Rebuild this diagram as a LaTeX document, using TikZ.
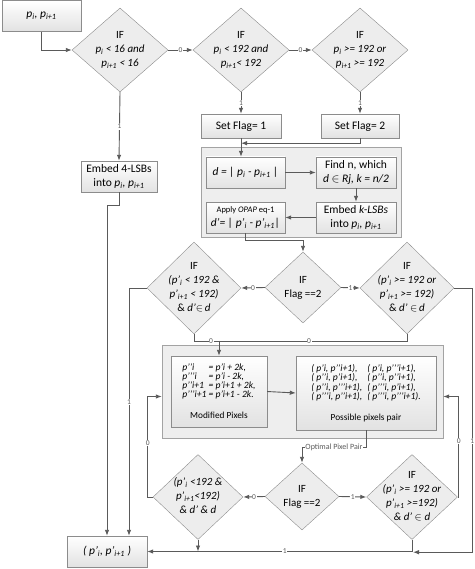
\documentclass[tikz,border=0pt]{standalone}
\usepackage{fontspec}
\setmainfont{Carlito}
\usepackage{tikz}
\usetikzlibrary{arrows.meta,calc,shapes.geometric,positioning}
\definecolor{edgegray}{HTML}{5A5A5A}
\definecolor{boxline}{HTML}{8C8C8C}
\definecolor{boxfill}{HTML}{E2E2E2}
\definecolor{diafill}{HTML}{EDEDED}
\definecolor{grpfill}{HTML}{EEEEEE}
\newcommand{\sbs}[1]{\textsubscript{#1}}
\newcommand{\dtxt}[1]{\smash{\raisebox{-0.25em}{\makebox[0pt]{\begin{tabular}{@{}c@{}}#1\end{tabular}}}}}
\newcommand{\eqfont}{\fontsize{9.6}{7.8}\selectfont\itshape}

\begin{document}
\begin{tikzpicture}[x=1pt,y=-1pt,
  box/.style={draw=boxline,top color=white,bottom color=boxfill,inner sep=1pt,align=center,font=\fontsize{11.5}{13.5}\selectfont},
  dia/.style={diamond,draw=boxline,fill=diafill,inner sep=0pt,font=\fontsize{11}{14}\selectfont},
  grp/.style={draw=boxline!80,fill=grpfill},
  arr/.style={draw=edgegray,line width=0.9pt,-{Latex[length=6pt,width=4.5pt]}},
  line/.style={draw=edgegray,line width=0.9pt},
  lbl/.style={fill=white,inner sep=0.6pt,text=edgegray,font=\fontsize{7.5}{8}\selectfont}]
\useasboundingbox (0,0) rectangle (474,569);

% top row
\node[box,minimum width=79pt,minimum height=31pt] (start) at (41.5,16) {\textit{p\sbs{i}, p\sbs{i+1}}};
\node[dia,minimum width=96pt,minimum height=84pt] (D1) at (120,50) {\dtxt{IF\\\textit{p\sbs{i} < 16 and}\\\textit{p\sbs{i+1} < 16}}};
\node[dia,minimum width=96pt,minimum height=84pt] (D2) at (241,50) {\dtxt{IF\\\textit{p\sbs{i} < 192 and}\\\textit{p\sbs{i+1}< 192}}};
\node[dia,minimum width=96pt,minimum height=84pt] (D3) at (360,50) {\dtxt{IF\\\textit{p\sbs{i} >= 192 or}\\\textit{p\sbs{i+1} >= 192}}};
\node[box,minimum width=80pt,minimum height=24pt] (flag1) at (241,126) {Set Flag= 1};
\node[box,minimum width=78pt,minimum height=24pt] (flag2) at (360,126) {Set Flag= 2};
\node[box,minimum width=76pt,minimum height=31pt] (embed4) at (119,176.5) {Embed 4-LSBs\\into \textit{p\sbs{i}, p\sbs{i+1}}};

% embedding group
\node[grp,minimum width=200pt,minimum height=90pt] (grp1) at (301,192) {};
\node[box,minimum width=79pt,minimum height=31pt] (dbox) at (245.5,172.5) {\textit{d = | p\sbs{i} - p\sbs{i+1} |}};
\node[box,minimum width=80pt,minimum height=31pt] (findbox) at (356,172.5) {Find n, which\\\textit{d} $\in$ \textit{Rj, k = n/2}};
\node[box,minimum width=80pt,minimum height=31pt] (embedk) at (356,217.5) {Embed \textit{k-LSBs}\\into \textit{p\sbs{i}, p\sbs{i+1}}};
\node[box,minimum width=79pt,minimum height=31pt] (apply) at (245.5,217.5) {{\fontsize{8.5}{10}\selectfont Apply \textit{OPAP} eq-1}\\\textit{d’= | p’\sbs{i} - p’\sbs{i+1}|}};

% first check
\node[dia,minimum width=94pt,minimum height=92pt] (UL) at (194,288) {\dtxt{IF\\\textit{(p’\sbs{i} < 192 \&}\\\textit{p’\sbs{i+1} < 192)}\\\& \textit{d’}$\in$\,\textit{d}}};
\node[dia,minimum width=76pt,minimum height=71pt] (UM) at (303,287.5) {\dtxt{IF\\Flag ==2}};
\node[dia,minimum width=94pt,minimum height=92pt] (UR) at (407,288) {\dtxt{IF\\\textit{(p’\sbs{i} >= 192 or}\\\textit{p’\sbs{i+1} >= 192)}\\\& \textit{d’} $\in$\,\textit{d}}};

% readjusting group
\node[grp,minimum width=281pt,minimum height=93pt] (grp2) at (302.5,391.5) {};
\node[box,minimum width=96pt,minimum height=71pt,font=\fontsize{9.3}{11}\selectfont] (modbox) at (219,391.5) {{\eqfont\begin{tabular}{@{}l@{ }l@{}}
p’’i & = p’i + 2k,\\
p’’’i & = p’i - 2k,\\
p’’i+1 & = p’i+1 + 2k,\\
p’’’i+1 & = p’i+1 - 2k.
\end{tabular}}\\[11pt]Modified Pixels};
\node[box,minimum width=140pt,minimum height=74pt,font=\fontsize{9.3}{11}\selectfont] (possbox) at (366,393) {{\eqfont\begin{tabular}{@{}l@{\hspace{5pt}}l@{}}
( p’i, p’’i+1), & ( p’i, p’’’i+1),\\
( p’’i, p’i+1), & ( p’’i, p’’i+1),\\
( p’’i, p’’’i+1), & ( p’’’i, p’i+1),\\
( p’’’i, p’’i+1), & ( p’’’i, p’’’i+1).
\end{tabular}}\\[11pt]Possible pixels pair};

% second check
\node[dia,minimum width=90pt,minimum height=85pt] (LL) at (198,497) {\dtxt{\textit{(p’\sbs{i} <192 \&}\\\textit{p’\sbs{i+1}<192)}\\\textit{\& d’ \& d}}};
\node[dia,minimum width=74pt,minimum height=67pt] (LM) at (302,496.5) {\dtxt{IF\\Flag ==2}};
\node[dia,minimum width=91pt,minimum height=85pt] (LR) at (412,497) {\dtxt{IF\\\textit{(p’\sbs{i} >= 192 or}\\\textit{p’\sbs{i+1} >=192)}\\\textit{\& d’} $\in$ \textit{d}}};
\node[box,minimum width=80pt,minimum height=31pt] (final) at (107,551.5) {\textit{( p’\sbs{i}, p’\sbs{i+1} )}};

% connectors
\draw[arr] (start.south) |- (D1.west);
\draw[arr] (D1.east) -- node[lbl]{0} (D2.west);
\draw[arr] (D2.east) -- node[lbl]{0} (D3.west);
\draw[arr] (D2.south) -- node[lbl]{1} (flag1.north);
\draw[arr] (D3.south) -- node[lbl]{1} (flag2.north);
\draw[arr] (D1.south) -- node[lbl]{1} (embed4.north);
\draw[arr] (flag2.south) |- ($(flag1.south)+(0,5)$);
\draw[arr] (flag1.south) -- (flag1.south |- dbox.north);
\draw[arr] (dbox.east) -- (findbox.west);
\draw[arr] (findbox.south) -- (embedk.north);
\draw[arr] (embedk.west) -- (apply.east);
\draw[arr] (apply.south) -- ++(0,7) -| (UM.north);
\draw[arr] (UM.west) -- node[lbl]{0} (UL.east);
\draw[arr] (UM.east) -- node[lbl]{1} (UR.west);
\draw[line] (UL.south) -- ++(0,7) -| node[lbl,pos=0.04]{0} node[lbl,pos=0.27]{0} (UR.south);
\draw[arr] ($(modbox.north)+(0,-15)$) -- (modbox.north);
\draw[arr] (UL.west) -| node[lbl,pos=0.73]{1} ($(final.north)+(22,0)$);
\draw[arr] (embed4.south) -- ++(0,13) -| (final.north);
\draw[arr] (modbox.east) -- (possbox.west);
\draw[arr] (possbox.south) -- ++(0,17) -| node[lbl,pos=0.25,font=\fontsize{8}{9}\selectfont]{Optimal Pixel Pair} (LM.north);
\draw[arr] (LM.west) -- node[lbl]{0} (LL.east);
\draw[arr] (LM.east) -- node[lbl]{1} (LR.west);
\draw[arr] (LL.west) -- ++(-5,0) |- node[lbl,pos=0.27]{0} ($(grp2.west)+(0,5)$);
\draw[arr] (LR.east) -- ++(1,0) |- node[lbl,pos=0.28]{0} ($(grp2.east)+(0,5)$);
\draw[arr] (UR.east) -- ++(18,0) |- node[lbl,pos=0.29]{1} ($(LR.south)+(1,12.5)$);
\draw[arr] (LR.south) |- node[lbl,pos=0.74]{1} (final.east);
\draw[arr] (LL.south) -- (LL.south |- final.east);
\end{tikzpicture}
\end{document}
